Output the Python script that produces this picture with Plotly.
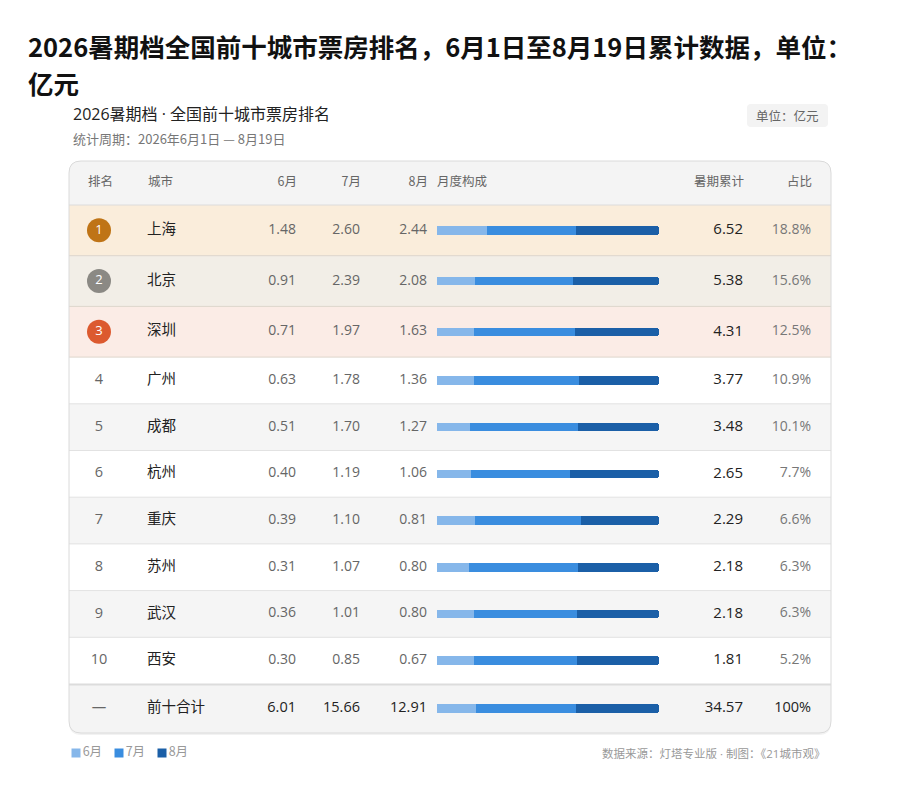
import plotly.graph_objects as go

# 数据（单位：亿元）
cities = ["上海", "北京", "深圳", "广州", "成都", "杭州", "重庆", "苏州", "武汉", "西安"]
ranks = [1, 2, 3, 4, 5, 6, 7, 8, 9, 10]
jun = [1.48, 0.91, 0.71, 0.63, 0.51, 0.40, 0.39, 0.31, 0.36, 0.30]
jul = [2.60, 2.39, 1.97, 1.78, 1.70, 1.19, 1.10, 1.07, 1.01, 0.85]
aug = [2.44, 2.08, 1.63, 1.36, 1.27, 1.06, 0.81, 0.80, 0.80, 0.67]
totals = [6.52, 5.38, 4.31, 3.77, 3.48, 2.65, 2.29, 2.18, 2.18, 1.81]
shares = [18.8, 15.6, 12.5, 10.9, 10.1, 7.7, 6.6, 6.3, 6.3, 5.2]
sum_label = "前十合计"
sum_jun, sum_jul, sum_aug, sum_total, sum_share = 6.01, 15.66, 12.91, 34.57, "100%"
months = ["6月", "7月", "8月"]
headers = ["排名", "城市", "6月", "7月", "8月", "月度构成", "暑期累计", "占比"]

# 样式（坐标按页面像素，页面有 8px 边距）
OFF = 8
W, H = 900, 785
FONT = "Open Sans, Noto Sans CJK SC, sans-serif"
CJK = "Noto Sans CJK SC, sans-serif"
month_colors = ["#86b7ea", "#3a8ddf", "#1b5fa7"]
badge_colors = ["#bf7416", "#8b8984", "#dc5a2f"]
top_fills = ["#faeddb", "#f2eee7", "#fbece6"]
stripe = "#f5f5f5"

TL, TR = 69, 831
TOP = 161
HEAD_H, TOP_H, ROW_H, SUM_H = 44, 50.7, 46.7, 49
X_RANK, X_CITY, X_JUN, X_JUL, X_AUG = 99, 148, 296, 360, 427
X_BAR0, X_BAR1, X_TOT, X_SHR = 437, 659, 743, 811

# 行位置
edges = [TOP + HEAD_H]
for i in range(len(cities)):
    edges.append(edges[-1] + (TOP_H if i < 3 else ROW_H))
rows_y = [(edges[i] + edges[i + 1]) / 2 for i in range(len(cities))]
sum_y0 = edges[-1]
sum_y1 = sum_y0 + SUM_H
sum_y = (sum_y0 + sum_y1) / 2
head_y = TOP + HEAD_H / 2
bottom = sum_y1


def rpath(x0, y0, x1, y1, tl=0, tr=0, br=0, bl=0):
    return (f"M{x0 + tl},{y0} L{x1 - tr},{y0} Q{x1},{y0} {x1},{y0 + tr} "
            f"L{x1},{y1 - br} Q{x1},{y1} {x1 - br},{y1} L{x0 + bl},{y1} "
            f"Q{x0},{y1} {x0},{y1 - bl} L{x0},{y0 + tl} Q{x0},{y0} {x0 + tl},{y0} Z")


fig = go.Figure()

# 月度构成堆叠条
bar_y = rows_y + [sum_y]
all_m = [jun + [sum_jun], jul + [sum_jul], aug + [sum_aug]]
row_sum = [a + b + c for a, b, c in zip(*all_m)]
for name, vals, col in zip(months, all_m, month_colors):
    fig.add_trace(go.Bar(
        x=[v / s for v, s in zip(vals, row_sum)], y=bar_y, name=name,
        orientation="h", width=8.5, marker=dict(color=col, line_width=0),
        xaxis="x2", yaxis="y", hoverinfo="skip", showlegend=False,
    ))


def col_text(x, ys, texts, pos, size, color, family=FONT):
    fig.add_trace(go.Scatter(
        x=[x] * len(ys), y=ys, text=texts, mode="text", textposition=pos,
        textfont=dict(size=size, color=color, family=family),
        showlegend=False, hoverinfo="skip",
    ))


# 表头
head_x = [X_RANK - 11, X_CITY, X_JUN + 1, X_JUL + 1, X_AUG + 1, X_BAR0, X_TOT + 1, X_SHR + 1]
head_pos = ["middle right", "middle right", "middle left", "middle left", "middle left",
            "middle right", "middle left", "middle left"]
for hx, ht, hp in zip(head_x, headers, head_pos):
    col_text(hx, [head_y], [ht], hp, 12.5, "#666666", CJK)

# 排名徽章
fig.add_trace(go.Scatter(
    x=[X_RANK] * 3, y=rows_y[:3], text=[str(r) for r in ranks[:3]],
    mode="markers+text", textposition="middle center",
    marker=dict(size=24, color=badge_colors, line_width=0),
    textfont=dict(size=13, color="white", family=FONT),
    showlegend=False, hoverinfo="skip",
))
col_text(X_RANK, rows_y[3:] + [sum_y], [str(r) for r in ranks[3:]] + ["—"],
         "middle center", 14.5, "#666666")

# 各列
col_text(X_CITY - 1, rows_y + [sum_y], cities + [sum_label], "middle right", 14.5, "#222222", CJK)
col_text(X_JUN, rows_y, [f"{v:.2f}" for v in jun], "middle left", 14, "#666666")
col_text(X_JUL, rows_y, [f"{v:.2f}" for v in jul], "middle left", 14, "#666666")
col_text(X_AUG, rows_y, [f"{v:.2f}" for v in aug], "middle left", 14, "#666666")
col_text(X_TOT, rows_y, [f"{v:.2f}" for v in totals], "middle left", 15, "#222222")
col_text(X_SHR, rows_y, [f"{v:.1f}%" for v in shares], "middle left", 14, "#777777")
for x, t in zip([X_JUN, X_JUL, X_AUG, X_TOT, X_SHR],
                [f"{sum_jun:.2f}", f"{sum_jul:.2f}", f"{sum_aug:.2f}", f"{sum_total:.2f}", sum_share]):
    col_text(x, [sum_y], [t], "middle left", 14.5 if x != X_TOT else 15, "#222222")

# 图例（自绘，间距同原图）
for lx, name, col in zip([76, 119, 162], months, month_colors):
    fig.add_trace(go.Scatter(
        x=[lx], y=[753], text=[name], mode="markers+text", textposition="middle right",
        marker=dict(symbol="square", size=9, color=col, line_width=0),
        textfont=dict(size=12.5, color="#999999", family=CJK),
        showlegend=False, hoverinfo="skip",
    ))

# 表格底色与分隔线
shapes = [
    dict(type="path", path=rpath(TL, TOP + 2, TR, bottom + 2, 12, 12, 12, 12),
         fillcolor="rgba(0,0,0,0.05)", line_width=0),
    dict(type="path", path=rpath(TL, TOP, TR, bottom, 12, 12, 12, 12),
         fillcolor="white", line_width=0),
    dict(type="path", path=rpath(TL, TOP, TR, TOP + HEAD_H, 12, 12, 0, 0),
         fillcolor="#f4f4f4", line_width=0),
]
for i in range(len(cities)):
    fill = top_fills[i] if i < 3 else (stripe if i % 2 == 0 else "white")
    shapes.append(dict(type="rect", x0=TL, x1=TR, y0=edges[i], y1=edges[i + 1],
                       fillcolor=fill, line_width=0))
shapes.append(dict(type="path", path=rpath(TL, sum_y0, TR, sum_y1, 0, 0, 12, 12),
                   fillcolor="#f4f4f4", line_width=0))
shapes.append(dict(type="line", x0=TL, x1=TR, y0=edges[0], y1=edges[0],
                   line=dict(color="#dcdcdc", width=1)))
for i, e in enumerate(edges[1:-1]):
    shapes.append(dict(type="line", x0=TL, x1=TR, y0=e, y1=e,
                       line=dict(color="#ddd6cc" if i < 3 else "#e2e2e2", width=1)))
shapes.append(dict(type="line", x0=TL, x1=TR, y0=sum_y0 + 0.5, y1=sum_y0 + 0.5,
                   line=dict(color="#dcdcdc", width=2)))
shapes.append(dict(type="path", path=rpath(TL, TOP, TR, bottom, 12, 12, 12, 12),
                   fillcolor="rgba(0,0,0,0)", line=dict(color="#dadada", width=1)))
# 单位标签底
shapes.append(dict(type="path", path=rpath(747, 104, 828, 127, 4, 4, 4, 4),
                   fillcolor="#f3f3f3", line_width=0))
for s in shapes:
    s.update(xref="x", yref="y", layer="below")

annotations = [
    dict(x=26, y=45, text="<b>2026暑期档全国前十城市票房排名，6月1日至8月19日累计数据，单位：</b>",
         xanchor="left", yanchor="middle", font=dict(size=25.5, color="#111111", family=CJK)),
    dict(x=26, y=82, text="<b>亿元</b>", xanchor="left", yanchor="middle",
         font=dict(size=25.5, color="#111111", family=CJK)),
    dict(x=71, y=114, text="2026暑期档 · 全国前十城市票房排名", xanchor="left", yanchor="middle",
         font=dict(size=16, color="#222222", family=FONT)),
    dict(x=71, y=138, text="统计周期：2026年6月1日 — 8月19日", xanchor="left", yanchor="middle",
         font=dict(size=13, color="#777777", family=CJK)),
    dict(x=787.5, y=115.5, text="单位：亿元", xanchor="center", yanchor="middle",
         font=dict(size=12.5, color="#666666", family=CJK)),
    dict(x=827, y=753, text="数据来源：灯塔专业版 · 制图：《21城市观》", xanchor="right", yanchor="middle",
         font=dict(size=11.5, color="#999999", family=FONT)),
]
for a in annotations:
    a.update(xref="x", yref="y", showarrow=False)

fig.update_layout(
    width=W - OFF, height=H - OFF, margin=dict(l=0, r=0, t=0, b=0),
    paper_bgcolor="white", plot_bgcolor="rgba(0,0,0,0)",
    barmode="stack", barcornerradius=3, bargap=0,
    xaxis=dict(range=[OFF, W], visible=False, fixedrange=True),
    xaxis2=dict(range=[0, 1], domain=[(X_BAR0 - OFF) / (W - OFF), (X_BAR1 - OFF) / (W - OFF)],
                anchor="y", visible=False, fixedrange=True),
    yaxis=dict(range=[H, OFF], visible=False, fixedrange=True),
    shapes=shapes, annotations=annotations,
    showlegend=False,
    font=dict(family=FONT),
)

fig.write_html("out.html")
